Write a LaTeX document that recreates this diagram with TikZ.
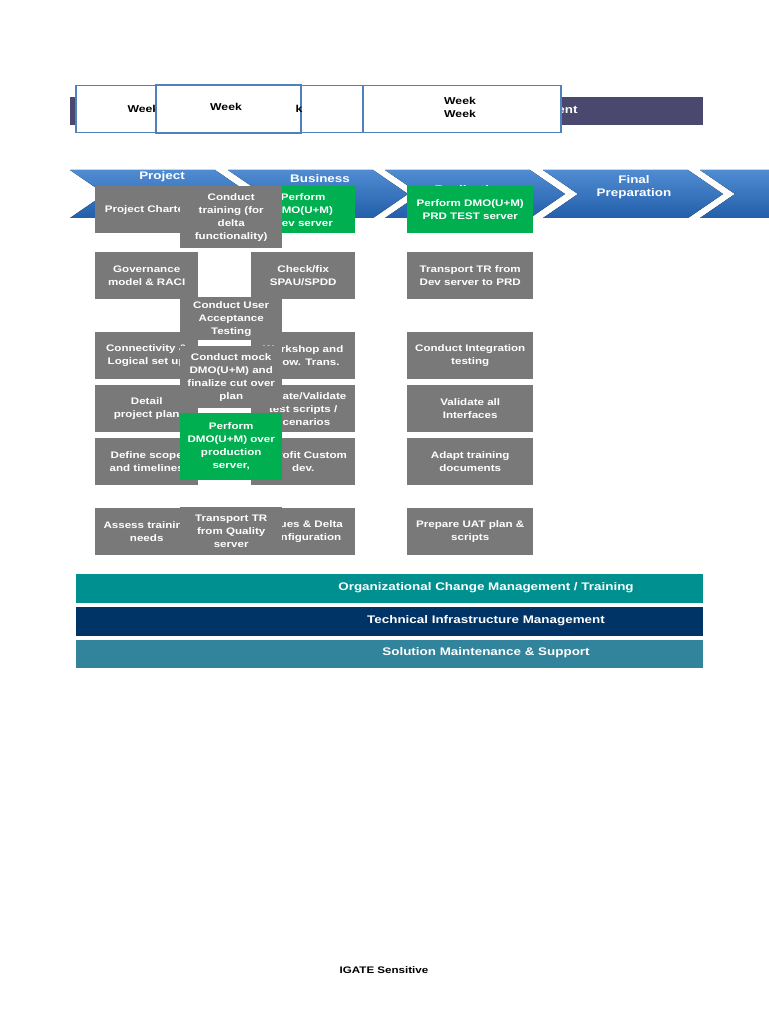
\documentclass[tikz,border=0pt]{standalone}
\usepackage{fontspec}
\setmainfont{Liberation Sans}
\newfontfamily\sx[FakeStretch=1.22]{Liberation Sans}
\begin{document}
\begin{tikzpicture}[x=1pt,y=-1pt,
  box/.style={draw=none,text=white,font=\sx\bfseries\fontsize{9.5}{13}\selectfont,align=center,anchor=north west,inner sep=0pt},
  gray/.style={box,fill=gray!95!black},
  green/.style={box,fill={rgb,255:red,0;green,176;blue,80}},
  wk/.style={draw={rgb,255:red,79;green,129;blue,189},line width=1.5pt,fill=white,anchor=north west,inner sep=0pt},
  wkt/.style={font=\sx\bfseries\fontsize{10}{13}\selectfont,align=center},
  bar/.style={anchor=north west,inner sep=0pt},
  bart/.style={text=white,font=\sx\bfseries\fontsize{11}{13}\selectfont},
  chev/.style={top color={rgb,255:red,80;green,140;blue,210},bottom color={rgb,255:red,35;green,95;blue,170},draw=none},
  chevt/.style={text=white,font=\sx\bfseries\fontsize{11}{13}\selectfont,align=center}]
\useasboundingbox (0,0) rectangle (768,1024);
% title bar
\node[bar,fill={rgb,255:red,74;green,72;blue,110},minimum width=633pt,minimum height=28pt] (tb) at (70,97) {};
\node[bart,anchor=east] (tbt) at (581,111) {Management};
% week boxes
\node[wk,minimum width=80pt,minimum height=47pt] (w1) at (75,85) {};
\node[wkt,anchor=west] (w1t) at (124,109) {Week};
\node[wk,line width=1.8pt,minimum width=145pt,minimum height=48pt] (w2) at (155,84) {};
\node[wkt] (w2t) at (226,107) {Week};
\node[wk,minimum width=62pt,minimum height=47pt] (w3) at (300,85) {};
\node[wkt,anchor=east] (w3t) at (306,109) {\phantom{Wee}k};
\node[wk,minimum width=198pt,minimum height=47pt] (w4) at (362,85) {};
\node[wkt] (w4t) at (460,107) {Week\\Week};
% chevrons
\foreach \x/\n in {70/c1,228/c2,385/c3,543/c4,700/c5}{
  \fill[chev] (\x,170) -- (\x+145,170) -- (\x+180,194) -- (\x+145,218) -- (\x,218) -- (\x+35,194) -- cycle;
  \coordinate (\n) at (\x+90,180);
}
\node[chevt] (ct1) at (162,177) {Project};
\node[chevt] (ct2) at (320,179) {Business};
\node[chevt] (ct3) at (470,190) {Realization};
\node[chevt] (ct4) at (634,187) {Final\\Preparation};
% column A
\foreach \y/\t/\n in {186/{Project  Charter}/a1,252/{Governance\\model \& RACI}/a2,332/{Connectivity \&\\Logical set up}/a3,385/{Detail\\project plan}/a4,438/{Define scope\\and timelines}/a5,508/{Assess training\\needs}/a6}
  \node[gray,minimum width=103pt,minimum height=47pt] (\n) at (95,\y) {\t};
% column B
\node[green,minimum width=104pt,minimum height=47pt] (b1) at (251,186) {Perform\\DMO(U+M)\\Dev server};
\foreach \y/\t/\n in {252/{Check/fix\\SPAU/SPDD}/b2,332/{Workshop and\\Know. Trans.}/b3,385/{Update/Validate\\test scripts /\\scenarios}/b4,438/{Retrofit Custom\\dev.}/b5,508/{Issues \&  Delta\\Configuration}/b6}
  \node[gray,minimum width=104pt,minimum height=47pt] (\n) at (251,\y) {\t};
% column C
\node[green,minimum width=126pt,minimum height=47pt] (c1b) at (407,186) {Perform DMO(U+M)\\PRD TEST server};
\foreach \y/\t/\n in {252/{Transport TR from\\Dev server to PRD}/cc2,332/{Conduct Integration\\testing}/cc3,385/{Validate all\\Interfaces}/cc4,438/{Adapt training\\documents}/cc5,508/{Prepare UAT plan \&\\scripts}/cc6}
  \node[gray,minimum width=126pt,minimum height=47pt] (\n) at (407,\y) {\t};
% middle column
\node[gray,minimum width=102pt,minimum height=62pt] (m1) at (180,186) {Conduct\\training (for\\delta\\functionality)};
\node[gray,minimum width=102pt,minimum height=43pt] (m2) at (180,297) {Conduct User\\Acceptance\\Testing};
\node[gray,minimum width=102pt,minimum height=62pt] (m3) at (180,346) {Conduct mock\\DMO(U+M) and\\finalize cut over\\plan};
\node[green,minimum width=102pt,minimum height=67pt] (m4) at (180,413) {Perform\\DMO(U+M) over\\production\\server,};
\node[gray,minimum width=102pt,minimum height=48pt] (m5) at (180,507) {Transport TR\\from Quality\\server};
% bottom bars
\node[bar,fill={rgb,255:red,0;green,144;blue,143},minimum width=627pt,minimum height=29pt] (o1) at (76,574) {};
\node[bart] (o1t) at (486,588) {Organizational Change Management / Training};
\node[bar,fill={rgb,255:red,0;green,51;blue,102},minimum width=627pt,minimum height=29pt] (o2) at (76,607) {};
\node[bart] (o2t) at (486,621) {Technical Infrastructure Management};
\node[bar,fill={rgb,255:red,49;green,132;blue,155},minimum width=627pt,minimum height=28pt] (o3) at (76,640) {};
\node[bart] (o3t) at (486,653) {Solution Maintenance \& Support};
\node[font=\sx\bfseries\fontsize{9.5}{10}\selectfont] (ft) at (384,970) {IGATE Sensitive};
\end{tikzpicture}
\end{document}
